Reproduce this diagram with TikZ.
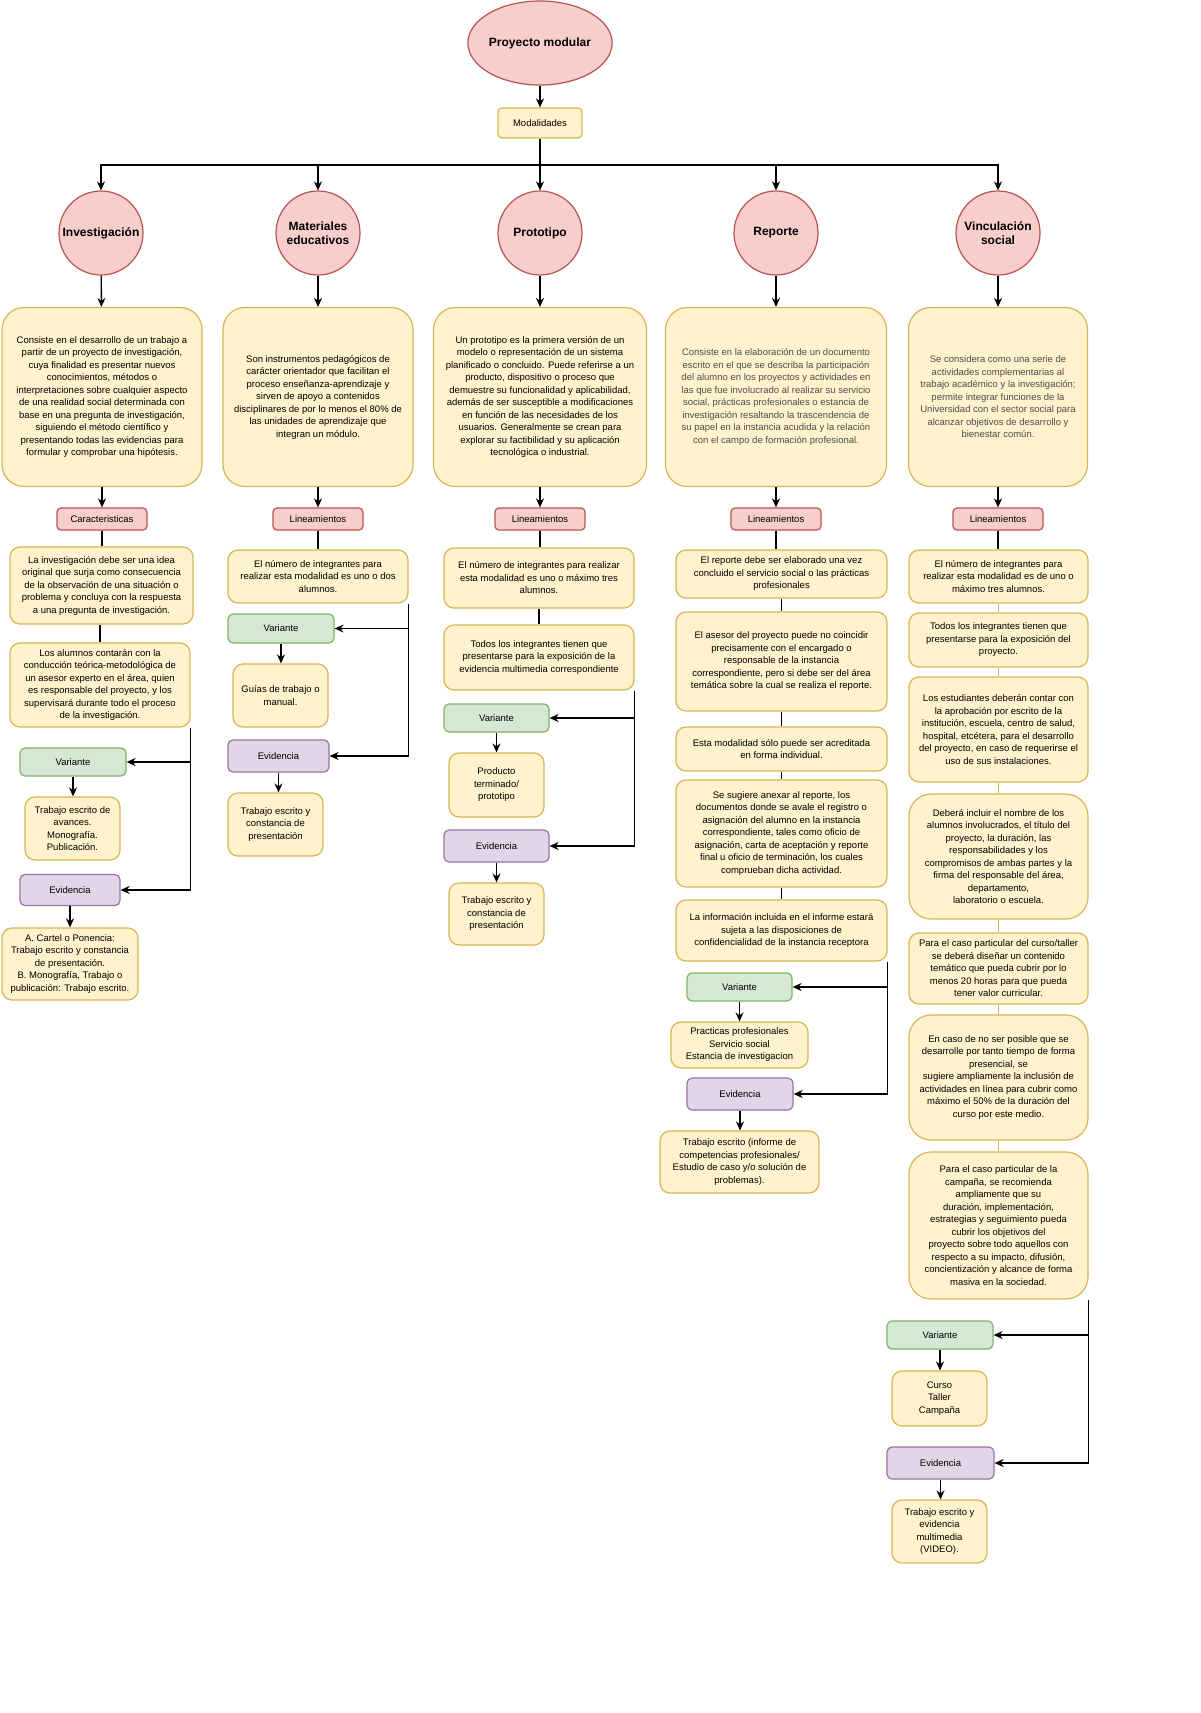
\documentclass[tikz,border=0pt]{standalone}
\usepackage{fontspec}
\setmainfont{Liberation Sans}
\usetikzlibrary{arrows.meta,shapes.geometric}
\definecolor{yf}{HTML}{FFF2CC}\definecolor{yd}{HTML}{D6B656}
\definecolor{rf}{HTML}{F8CECC}\definecolor{rd}{HTML}{B85450}
\definecolor{gf}{HTML}{D5E8D4}\definecolor{gd}{HTML}{82B366}
\definecolor{pf}{HTML}{E1D5E7}\definecolor{pd}{HTML}{9673A6}
\definecolor{gt}{HTML}{4D4D4D}
\newcommand\nb[7]{\node[#6,minimum width=#4pt,minimum height=#5pt] (#1) at (#2,#3) {#7};}
\begin{document}
\begin{tikzpicture}[x=1pt,y=-1pt,
  base/.style={inner sep=0pt,align=center,line width=1.2pt,font=\fontsize{9.5}{12.5}\selectfont},
  yb/.style={base,draw=yd,fill=yf,rounded corners=22pt},
  ys/.style={base,draw=yd,fill=yf,rounded corners=10pt},
  rb/.style={base,draw=rd,fill=rf,rounded corners=4pt},
  gb/.style={base,draw=gd,fill=gf,rounded corners=5pt},
  pb/.style={base,draw=pd,fill=pf,rounded corners=5pt},
  circ/.style={base,draw=rd,fill=rf,circle,minimum size=84pt,font=\fontsize{12}{14.5}\selectfont\bfseries},
  ar/.style={line width=1.3pt,-{Stealth[length=9pt,width=8pt]}},
  ln/.style={line width=1.3pt}]
\fill[white] (0,0) rectangle (1200,1713);
% top
\node[base,draw=rd,fill=rf,ellipse,minimum width=128pt,minimum height=84pt,font=\fontsize{12}{14.5}\selectfont\bfseries] (top) at (540,43) {Proyecto modular};
\nb{mod}{540}{123}{84}{30}{ys,rounded corners=4pt,font=\fontsize{9.5}{12}\selectfont}{Modalidades}
\node[circ] (c1) at (101,233) {Investigación};
\node[circ] (c2) at (318,233) {Materiales\\educativos};
\node[circ] (c3) at (540,233) {Prototipo};
\node[circ] (c4) at (776,233) {Reporte};
\node[circ] (c5) at (998,233) {Vinculación\\social};
\coordinate (bar) at (540,165);
\draw[ar] (top) -- (mod);
\draw[ln] (mod) -- (bar);
\foreach \c in {c1,c2,c4,c5}{\draw[ar] (bar) -| (\c.north);}
\draw[ar] (bar) -- (c3);
% big boxes
\nb{d1}{102}{397}{200}{179}{yb}{Consiste en el desarrollo de un trabajo a\\partir de un proyecto de investigación,\\cuya finalidad es presentar nuevos\\conocimientos, métodos o\\interpretaciones sobre cualquier aspecto\\de una realidad social determinada con\\base en una pregunta de investigación,\\siguiendo el método científico y\\presentando todas las evidencias para\\formular y comprobar una hipótesis.}
\nb{d2}{318}{397}{190}{179}{yb}{Son instrumentos pedagógicos de\\carácter orientador que facilitan el\\proceso enseñanza-aprendizaje y\\sirven de apoyo a contenidos\\disciplinares de por lo menos el 80\% de\\las unidades de aprendizaje que\\integran un módulo.}
\nb{d3}{540}{397}{213}{179}{yb}{Un prototipo es la primera versión de un\\modelo o representación de un sistema\\planificado o concluido. Puede referirse a un\\producto, dispositivo o proceso que\\demuestre su funcionalidad y aplicabilidad,\\además de ser susceptible a modificaciones\\en función de las necesidades de los\\usuarios. Generalmente se crean para\\explorar su factibilidad y su aplicación\\tecnológica o industrial.}
\nb{d4}{776}{397}{221}{179}{yb,text=gt}{Consiste en la elaboración de un documento\\escrito en el que se describa la participación\\del alumno en los proyectos y actividades en\\las que fue involucrado al realizar su servicio\\social, prácticas profesionales o estancia de\\investigación resaltando la trascendencia de\\su papel en la instancia acudida y la relación\\con el campo de formación profesional.}
\nb{d5}{998}{397}{179}{179}{yb,text=gt}{Se considera como una serie de\\actividades complementarias al\\trabajo académico y la investigación;\\permite integrar funciones de la\\Universidad con el sector social para\\alcanzar objetivos de desarrollo y\\bienestar común.}
\foreach \i in {1,...,5}{\draw[ar] (c\i) -- (d\i);}
% red
\nb{r1}{102}{519}{90}{22}{rb}{Caracteristicas}
\nb{r2}{318}{519}{90}{22}{rb}{Lineamientos}
\nb{r3}{540}{519}{90}{22}{rb}{Lineamientos}
\nb{r4}{776}{519}{90}{22}{rb}{Lineamientos}
\nb{r5}{998}{519}{90}{22}{rb}{Lineamientos}
\foreach \i in {1,...,5}{\draw[ar] (d\i) -- (r\i);}
% Investigacion
\nb{i1}{101.5}{585.5}{183}{77}{ys}{La investigación debe ser una idea\\original que surja como consecuencia\\de la observación de una situación o\\problema y concluya con la respuesta\\a una pregunta de investigación.}
\nb{i2}{100}{685}{180}{84}{ys}{Los alumnos contarán con la\\conducción teórica-metodológica de\\un asesor experto en el área, quien\\es responsable del proyecto, y los\\supervisará durante todo el proceso\\de la investigación.}
\nb{iv}{73}{762}{106}{28}{gb}{Variante}
\nb{ivr}{72.5}{828.5}{95}{63}{ys}{Trabajo escrito de\\avances.\\Monografía.\\Publicación.}
\nb{ie}{70}{890}{100}{31}{pb}{Evidencia}
\nb{ier}{70}{964}{136}{72}{ys}{A. Cartel o Ponencia:\\Trabajo escrito y constancia\\de presentación.\\B. Monografía, Trabajo o\\publicación: Trabajo escrito.}
\draw[ln] (r1) -- (r1 |- i1.north);
\draw[ln] (i1.south -| i2) -- (i2);
\draw[ar] (i2.south east) |- (iv);
\draw[ar] (i2.south east) |- (ie);
\draw[ar] (iv) -- (iv |- ivr.north);
\draw[ar] (ie) -- (ier);
% Materiales
\nb{m1}{318}{576.5}{180}{53}{ys}{El número de integrantes para\\realizar esta modalidad es uno o dos\\alumnos.}
\nb{mv}{281}{628.5}{106}{29}{gb}{Variante}
\nb{mvr}{280.5}{695.5}{95}{63}{ys}{Guías de trabajo o\\manual.}
\nb{me}{278.5}{756}{101}{32}{pb}{Evidencia}
\nb{mer}{275.5}{824.5}{95}{63}{ys}{Trabajo escrito y\\constancia de\\presentación}
\draw[ln] (r2) -- (m1);
\draw[ar] (m1.south east) |- (mv);
\draw[ar] (m1.south east) |- (me);
\draw[ar] (mv) -- (mv |- mvr.north);
\draw[ar] (me) -- (me |- mer.north);
% Prototipo
\nb{p1}{539}{578}{190}{60}{ys}{El número de integrantes para realizar\\esta modalidad es uno o máximo tres\\alumnos.}
\nb{p2}{539}{657.5}{190}{65}{ys}{Todos los integrantes tienen que\\presentarse para la exposición de la\\evidencia multimedia correspondiente}
\nb{pv}{496.5}{718}{105}{28}{gb}{Variante}
\nb{pvr}{496.5}{785}{95}{64}{ys}{Producto\\terminado/\\prototipo}
\nb{pe}{496.5}{846}{105}{32}{pb}{Evidencia}
\nb{per}{496.5}{914}{95}{62}{ys}{Trabajo escrito y\\constancia de\\presentación}
\draw[ln] (r3) -- (r3 |- p1.north);
\draw[ln] (p1) -- (p2);
\draw[ar] (p2.south east) |- (pv);
\draw[ar] (p2.south east) |- (pe);
\draw[ar] (pv) -- (pvr);
\draw[ar] (pe) -- (per);
% Reporte
\nb{e1}{781.5}{574}{211}{48}{ys}{El reporte debe ser elaborado una vez\\concluido el servicio social o las prácticas\\profesionales}
\nb{e2}{781.5}{661.5}{211}{99}{ys}{El asesor del proyecto puede no coincidir\\precisamente con el encargado o\\responsable de la instancia\\correspondiente, pero si debe ser del área\\temática sobre la cual se realiza el reporte.}
\nb{e3}{781.5}{749}{211}{44}{ys}{Esta modalidad sólo puede ser acreditada\\en forma individual.}
\nb{e4}{781.5}{833.5}{211}{107}{ys}{Se sugiere anexar al reporte, los\\documentos donde se avale el registro o\\asignación del alumno en la instancia\\correspondiente, tales como oficio de\\asignación, carta de aceptación y reporte\\final u oficio de terminación, los cuales\\comprueban dicha actividad.}
\nb{e5}{781.5}{930.5}{211}{61}{ys}{La información incluida en el informe estará\\sujeta a las disposiciones de\\confidencialidad de la instancia receptora}
\nb{ev}{739.5}{987}{105}{28}{gb}{Variante}
\nb{evr}{739.5}{1045}{137}{46}{ys}{Practicas profesionales\\Servicio social\\Estancia de investigacion}
\nb{ee}{740}{1094}{106}{32}{pb}{Evidencia}
\nb{eer}{739.5}{1162}{159}{62}{ys}{Trabajo escrito (informe de\\competencias profesionales/\\Estudio de caso y/o solución de\\problemas).}
\draw[ln] (r4) -- (r4 |- e1.north);
\draw[ln] (e1) -- (e2);
\draw[ln] (e2) -- (e3);
\draw[ln] (e3) -- (e4);
\draw[ln] (e4) -- (e5);
\draw[ar] (e5.south east) |- (ev);
\draw[ar] (e5.south east) |- (ee);
\draw[ar] (ev) -- (ev |- evr.north);
\draw[ar] (ee) -- (ee |- eer.north);
% Vinculacion
\nb{v1}{998.5}{576.5}{179}{53}{ys}{El número de integrantes para\\realizar esta modalidad es de uno o\\máximo tres alumnos.}
\nb{v2}{998.5}{640}{179}{54}{ys}{Todos los integrantes tienen que\\presentarse para la exposición del\\proyecto.}
\nb{v3}{998.5}{729.5}{179}{105}{ys}{Los estudiantes deberán contar con\\la aprobación por escrito de la\\institución, escuela, centro de salud,\\hospital, etcétera, para el desarrollo\\del proyecto, en caso de requerirse el\\uso de sus instalaciones.}
\nb{v4}{998.5}{856.5}{179}{125}{yb}{Deberá incluir el nombre de los\\alumnos involucrados, el título del\\proyecto, la duración, las\\responsabilidades y los\\compromisos de ambas partes y la\\firma del responsable del área,\\departamento,\\laboratorio o escuela.}
\nb{v5}{998.5}{968.5}{179}{71}{ys}{Para el caso particular del curso/taller\\se deberá diseñar un contenido\\temático que pueda cubrir por lo\\menos 20 horas para que pueda\\tener valor curricular.}
\nb{v6}{998.5}{1077.5}{179}{125}{yb}{En caso de no ser posible que se\\desarrolle por tanto tiempo de forma\\presencial, se\\sugiere ampliamente la inclusión de\\actividades en línea para cubrir como\\máximo el 50\% de la duración del\\curso por este medio.}
\nb{v7}{998.5}{1225.5}{179}{147}{yb}{Para el caso particular de la\\campaña, se recomienda\\ampliamente que su\\duración, implementación,\\estrategias y seguimiento pueda\\cubrir los objetivos del\\proyecto sobre todo aquellos con\\respecto a su impacto, difusión,\\concientización y alcance de forma\\masiva en la sociedad.}
\nb{vv}{940}{1335}{106}{28}{gb}{Variante}
\nb{vvr}{939.5}{1398.5}{95}{55}{ys}{Curso\\Taller\\Campaña}
\nb{ve}{940.5}{1463}{107}{32}{pb}{Evidencia}
\nb{ver}{939.5}{1531.5}{95}{63}{ys}{Trabajo escrito y\\evidencia\\multimedia\\(VIDEO).}
\draw[ln] (r5) -- (r5 |- v1.north);
\foreach \a/\b in {v1/v2,v2/v3,v3/v4,v4/v5,v5/v6,v6/v7}{\draw[ln,draw=yd] (\a) -- (\b);}
\draw[ar] (v7.south east) |- (vv);
\draw[ar] (v7.south east) |- (ve);
\draw[ar] (vv) -- (vv |- vvr.north);
\draw[ar] (ve) -- (ve |- ver.north);
\pgfresetboundingbox
\path[use as bounding box] (0,0) rectangle (1200,1713);
\end{tikzpicture}
\end{document}
